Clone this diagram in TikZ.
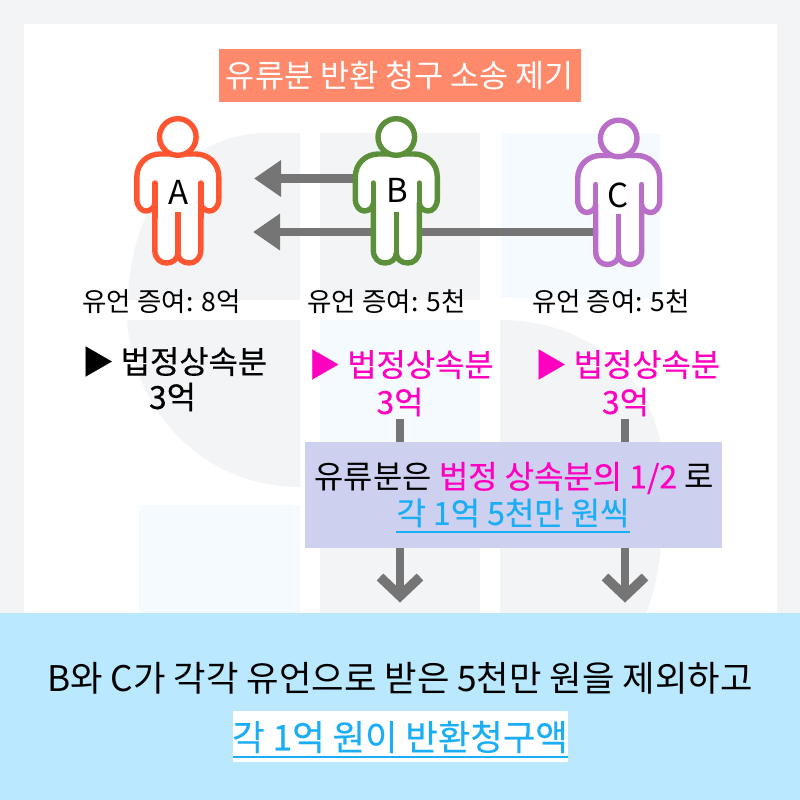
\documentclass[tikz,border=0pt]{standalone}
\usepackage{fontspec}
\setmainfont{Noto Sans CJK KR}
\newfontfamily\medfont[FakeBold=0.35]{Noto Sans CJK KR}
\usetikzlibrary{arrows.meta,calc}
\definecolor{wmgray}{HTML}{F3F4F6}
\definecolor{wmblue}{HTML}{F5FAFF}
\definecolor{arrowgray}{HTML}{757575}
\definecolor{titlebg}{HTML}{FF8A6B}
\definecolor{notebg}{HTML}{CDD0EE}
\definecolor{bandbg}{HTML}{B9E8FF}
\definecolor{hlpink}{HTML}{FF00C0}
\definecolor{hlblue}{HTML}{1AAEF4}
\definecolor{figA}{HTML}{FF5530}
\definecolor{figB}{HTML}{5B8F3A}
\definecolor{figC}{HTML}{B96EC8}
\newcommand{\fs}[1]{\fontsize{#1}{#1}\selectfont}
\tikzset{
  x=1pt,y=-1pt,
  txt/.style={inner sep=0pt,text=black,anchor=center},
  figbox/.style={inner sep=0pt,minimum width=86pt,minimum height=148pt},
  shaft/.style={draw=arrowgray,line width=8.5pt},
  hshaft/.style={shaft,-{Triangle[length=27pt,width=35pt,fill=arrowgray]}},
  vshaft/.style={draw=arrowgray,line width=8pt},
  chevron/.style={draw=arrowgray,line width=9.5pt,miter limit=10},
  person/.style={line width=5.4pt,fill=white,line join=round,line cap=round},
  pics/figure/.style={code={
    \draw[person,draw=#1]
      (-10,17) -- (-18,17) .. controls (-30,17) and (-41,26) .. (-41,40)
      -- (-41,62) .. controls (-41,70) and (-36,74) .. (-32,74)
      .. controls (-28,74) and (-23,71) .. (-23,66)
      -- (-23,113) .. controls (-23,122) and (-17,126) .. (-11.5,126)
      .. controls (-5,126) and (0,122) .. (0,116)
      .. controls (0,122) and (5,126) .. (11.5,126)
      .. controls (17,126) and (23,122) .. (23,113)
      -- (23,66) .. controls (23,71) and (28,74) .. (32,74)
      .. controls (36,74) and (41,70) .. (41,62)
      -- (41,40) .. controls (41,26) and (30,17) .. (18,17) -- (10,17) -- cycle;
    \draw[line width=5.4pt,draw=#1,line cap=round] (-23,46) -- (-23,80);
    \draw[line width=5.4pt,draw=#1,line cap=round] (23,46) -- (23,80);
    \draw[line width=5.4pt,draw=#1,line cap=butt] (0,75) -- (0,116);
    \draw[line width=5.4pt,draw=#1,fill=white] (0,0) circle (18.3);
  }}
}
\begin{document}
\begin{tikzpicture}
\useasboundingbox (0,0) rectangle (800,800);
% backdrop
\fill[wmgray] (0,0) rectangle (800,800);
\fill[white] (24,24) rectangle (777,613);
\fill[wmgray] (128,300) .. controls (130,220) and (170,140) .. (260,133) -- (300,133) -- (300,300) -- cycle;
\fill[wmgray] (320,133) rectangle (480,300);
\fill[wmblue] (501,133) rectangle (660,298);
\fill[wmgray] (127,320) -- (300,320) -- (300,487) .. controls (210,487) and (135,420) .. (127,320) -- cycle;
\fill[wmblue] (320,320) rectangle (480,500);
\fill[wmgray] (500,320) .. controls (590,320) and (665,380) .. (664,480) .. controls (664,530) and (660,580) .. (646,613) -- (500,613) -- cycle;
\fill[wmblue] (139,505) rectangle (300,613);
\fill[wmgray] (320,505) rectangle (480,613);
% bottom band
\fill[bandbg] (0,613) rectangle (800,800);
% title
\node[fill=titlebg,minimum width=362pt,minimum height=53pt,inner sep=0pt,text=white] (title) at (400,75.5) {\fs{31.6}유류분 반환 청구 소송 제기};
% figure boxes (names for connectors)
\node[figbox] (A) at (178,191) {};
\node[figbox] (B) at (396.3,191) {};
\node[figbox] (C) at (618.7,192) {};
\coordinate (tipone) at (254,178.5);
\coordinate (tiptwo) at (253,232);
\draw[hshaft] (B.west |- tipone) -- (tipone);
\draw[hshaft] ($(C.west |- tiptwo)+(25,0)$) -- (tiptwo);
% figures
\pic at (177.8,137) {figure=figA};
\pic at (396.3,137) {figure=figB};
\pic at (618.7,138.5) {figure=figC};
\node[txt] (Al) at (178.5,192) {\fs{33}A};
\node[txt] (Bl) at (397.5,190) {\fs{33}B};
\node[txt] (Cl) at (618.5,195) {\fs{33}C};
% gift labels
\node[txt] (ga) at (161.5,301.5) {\fs{26.5}유언 증여: 8억};
\node[txt] (gb) at (386.5,301.5) {\fs{26.5}유언 증여: 5천};
\node[txt] (gc) at (611,301.5) {\fs{26.5}유언 증여: 5천};
% statutory share
\node[txt] (sa) at (174.5,361.5) {\fs{31.8}\medfont ▶ 법정상속분};
\node[txt] (sa2) at (172.5,397) {\fs{31.8}\medfont 3억};
\node[txt,text=hlpink] (sb) at (401,364.5) {\fs{31.8}\medfont ▶ 법정상속분};
\node[txt,text=hlpink] (sb2) at (400,402) {\fs{31.8}\medfont 3억};
\node[txt,text=hlpink] (sc) at (627.5,364.5) {\fs{31.8}\medfont ▶ 법정상속분};
\node[txt,text=hlpink] (sc2) at (625.5,402) {\fs{31.8}\medfont 3억};
% verticals
\coordinate (ub) at (400,419);
\coordinate (uc) at (625,419);
\coordinate (db) at (400,598);
\coordinate (dc) at (625,598);
\node[fill=notebg,minimum width=417pt,minimum height=106pt,inner sep=0pt] (note) at (513.5,495) {};
\draw[vshaft] (ub) -- (ub |- note.north);
\draw[vshaft] (uc) -- (uc |- note.north);
\draw[vshaft] (ub |- note.south) -- (db);
\draw[vshaft] (uc |- note.south) -- (dc);
\draw[chevron] ($(db)+(-20,-21)$) -- ($(db)+(0,-2)$) -- ($(db)+(20,-21)$);
\draw[chevron] ($(dc)+(-20,-21)$) -- ($(dc)+(0,-2)$) -- ($(dc)+(20,-21)$);
% note text
\node[txt] (n1) at (514,478) {\fs{31.9}유류분은 {\color{hlpink}\medfont 법정 상속분의 1/2} 로};
\node[txt,text=hlblue] (n2) at (513,513) {\fs{31.9}\medfont 각 1억 5천만 원씩};
\fill[hlblue] (396,530.5) rectangle (630,532.5);
% bottom text
\node[txt] (b1) at (400,678) {\fs{35.3}B와 C가 각각 유언으로 받은 5천만 원을 제외하고};
\fill[white] (232.5,710.7) rectangle (568,761.7);
\node[txt,text=hlblue] (b2) at (400,737) {\fs{35.3}\medfont 각 1억 원이 반환청구액};
\fill[hlblue] (232.5,756) rectangle (568,758);
\end{tikzpicture}
\end{document}
